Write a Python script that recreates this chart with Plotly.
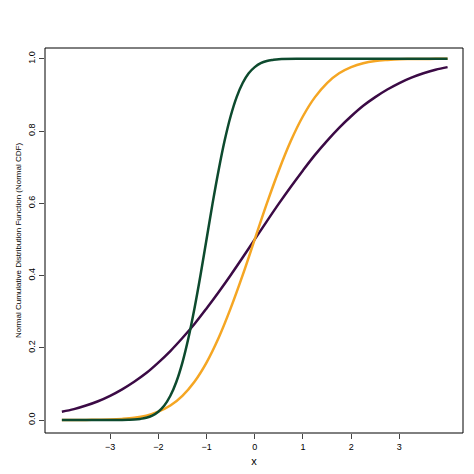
import plotly.graph_objects as go

x_common = [-4, -3.75, -3.5, -3.25, -3, -2.75, -2.5, -2.25, -2, -1.75, -1.5, -1.25, -1, -0.75, -0.5, -0.25,
            0, 0.25, 0.5, 0.75, 1, 1.25, 1.5, 1.75, 2, 2.25, 2.5, 2.75, 3, 3.25, 3.5, 3.75, 4]
purple_y = [0.023, 0.030, 0.040, 0.052, 0.067, 0.085, 0.106, 0.130, 0.159, 0.191, 0.227, 0.266, 0.309, 0.354, 0.401, 0.450,
            0.5, 0.550, 0.599, 0.646, 0.691, 0.734, 0.773, 0.809, 0.841, 0.870, 0.894, 0.915, 0.933, 0.948, 0.960, 0.970, 0.977]
orange_y = [0.0, 0.0001, 0.0002, 0.0006, 0.0013, 0.003, 0.006, 0.012, 0.023, 0.040, 0.067, 0.106, 0.159, 0.227, 0.309, 0.401,
            0.5, 0.599, 0.691, 0.773, 0.841, 0.894, 0.933, 0.960, 0.977, 0.988, 0.994, 0.997, 0.999, 0.9994, 0.9998, 0.9999, 1.0]
x_green = [-4, -3.5, -3, -2.875, -2.75, -2.625, -2.5, -2.375, -2.25, -2.125, -2, -1.875, -1.75, -1.625, -1.5, -1.375,
           -1.25, -1.125, -1, -0.875, -0.75, -0.625, -0.5, -0.375, -0.25, -0.125, 0, 0.125, 0.25, 0.375, 0.5,
           1, 2, 3, 4]
green_y = [0.0, 0.0, 0.00003, 0.0001, 0.0002, 0.0006, 0.0013, 0.003, 0.006, 0.012, 0.023, 0.040, 0.067, 0.106, 0.159, 0.227,
           0.309, 0.401, 0.5, 0.599, 0.691, 0.773, 0.841, 0.894, 0.933, 0.960, 0.977, 0.988, 0.994, 0.997, 0.999,
           1.0, 1.0, 1.0, 1.0]

fig = go.Figure()
fig.add_trace(go.Scatter(x=x_common, y=purple_y, mode="lines", line=dict(color="#3b0a45", width=2.5, shape="spline")))
fig.add_trace(go.Scatter(x=x_common, y=orange_y, mode="lines", line=dict(color="#f5a623", width=2.5, shape="spline")))
fig.add_trace(go.Scatter(x=x_green, y=green_y, mode="lines", line=dict(color="#0d4a2e", width=2.5, shape="spline")))

fig.update_layout(
    width=474, height=474, showlegend=False,
    paper_bgcolor="white", plot_bgcolor="white",
    margin=dict(l=37, r=19, t=40, b=49, autoexpand=False),
    font=dict(family="Liberation Sans, Arial", size=9, color="black"),
    xaxis=dict(range=[-4.35, 4.32], tickvals=[-3, -2, -1, 0, 1, 2, 3], ticks="outside", ticklen=5,
               showgrid=False, zeroline=False, showline=False, automargin=False,
               title=dict(text="x", standoff=6)),
    yaxis=dict(range=[-0.036, 1.03], tickvals=[0, 0.2, 0.4, 0.6, 0.8, 1.0], ticktext=["0.0", "0.2", "0.4", "0.6", "0.8", "1.0"],
               tickangle=-90, ticks="outside", ticklen=5, showgrid=False, zeroline=False, showline=False, automargin=False,
               title=dict(text="Normal Cumulative Distribution Function (Normal CDF)", font=dict(size=8), standoff=4)),
    shapes=[dict(type="rect", xref="paper", yref="paper", x0=0, y0=0, x1=1, y1=1, line=dict(color="black", width=1))],
)
fig.write_html("out.html")
